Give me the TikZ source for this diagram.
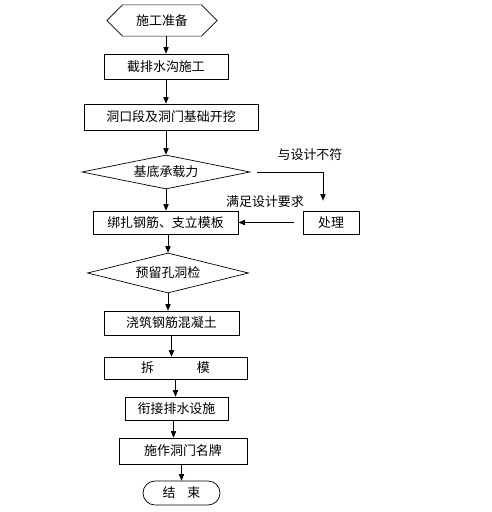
\documentclass[tikz,border=0pt]{standalone}
\usepackage{fontspec}
\newfontfamily\cjk{Noto Sans CJK SC}
\usepackage{tikz}
\usetikzlibrary{arrows.meta,positioning,calc,shapes.geometric,shapes.symbols}

\begin{document}
\begin{tikzpicture}[x=0.025cm,y=-0.025cm,
  box/.style={draw,line width=0.5pt,inner sep=0pt,font=\cjk\fontsize{9.2}{11}\selectfont},
  dia/.style={draw,diamond,line width=0.5pt,inner sep=0pt,font=\cjk\fontsize{9.2}{11}\selectfont},
  lbl/.style={font=\cjk\fontsize{9.2}{11}\selectfont},
  arr/.style={-{Triangle[length=1.6mm,width=1.3mm]},line width=0.5pt}]
 \useasboundingbox (0,0) rectangle (492,512);
 \node[box,signal,signal to=west and east,minimum width=2.75cm,minimum height=0.78cm] (st) at (162,20.5) {施工准备};
 \node[box,minimum width=3.1cm,minimum height=0.625cm] (pxs) at (166,66.5) {截排水沟施工};
 \node[box,minimum width=4.35cm,minimum height=0.65cm] (kw) at (171,117) {洞口段及洞门基础开挖};
 \node[dia,aspect=4.9,minimum width=4.2cm,minimum height=0.85cm] (cz) at (166,172) {基底承载力};
 \node[box,minimum width=3.625cm,minimum height=0.575cm] (mb) at (165.5,222.5) {绑扎钢筋、支立模板};
 \node[box,minimum width=1.4cm,minimum height=0.575cm] (cl) at (331,222.5) {处理};
 \node[dia,aspect=4,minimum width=4.025cm,minimum height=1cm] (yl) at (168,273) {预留孔洞检};
 \node[box,minimum width=3.375cm,minimum height=0.6cm] (jz) at (171.5,323) {浇筑钢筋混凝土};
 \node[box,minimum width=3.575cm,minimum height=0.55cm] (cm) at (175.5,368) {拆\hspace{3.3em}模};
 \node[box,minimum width=2.575cm,minimum height=0.575cm] (xj) at (176.5,408.5) {衔接排水设施};
 \node[box,minimum width=3.2cm,minimum height=0.65cm] (mp) at (183,451) {施作洞门名牌};
 \node[box,rounded corners=0.3cm,minimum width=1.925cm,minimum height=0.6cm] (js) at (181.5,493) {结\hspace{0.9em}束};
 \node[lbl] (bf) at (310,155) {与设计不符};
 \node[lbl] (mz) at (265,202) {满足设计要求};
 \draw[arr] (pxs.north |- st.south) -- (pxs.north);
 \draw[arr] (pxs.south) -- (pxs.south |- kw.north);
 \draw[arr] (cz.north |- kw.south) -- (cz.north);
 \draw[arr] (cz.south) -- (cz.south |- mb.north);
 \draw[arr] (yl.north |- mb.south) -- (yl.north);
 \foreach \a/\b in {yl/jz,jz/cm,cm/xj} \draw[arr] (\a.south) -- (\a.south |- \b.north);
 \draw[arr] (xj.south) ++(-3,0) coordinate (xjs) -- (xjs |- mp.north);
 \draw[arr] (js.north |- mp.south) -- (js.north);
 \draw[arr,shorten <=5pt,shorten >=2.5mm] (cz.east) -| ($(cl.north)+(-8,0)$);
 \draw[arr,shorten <=2.2mm] (cl.west) -- (mb.east);
\end{tikzpicture}
\end{document}
